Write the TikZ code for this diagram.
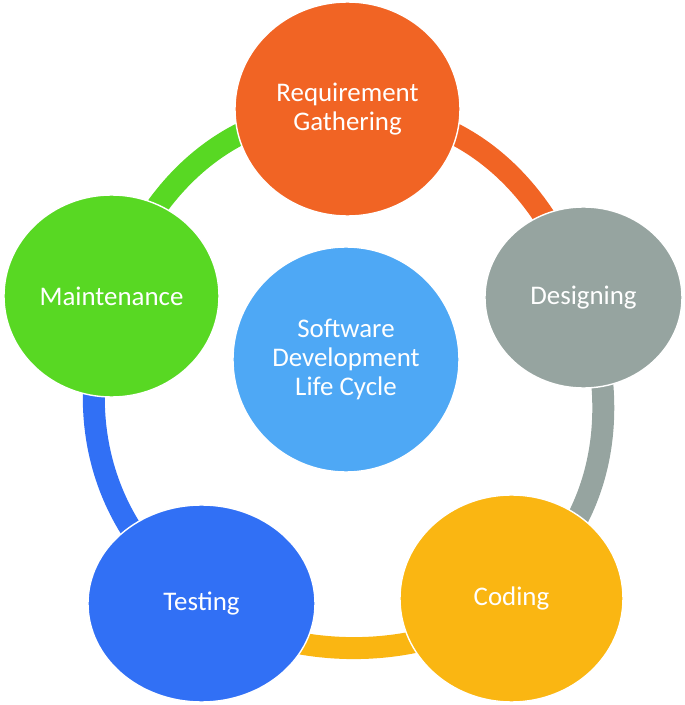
\documentclass[tikz,border=0pt]{standalone}
\usepackage{fontspec}
\setmainfont{Carlito}
\usetikzlibrary{shapes.geometric,backgrounds}

\definecolor{reqorange}{HTML}{F16424}
\definecolor{desgray}{HTML}{96A4A0}
\definecolor{codyellow}{HTML}{FAB612}
\definecolor{testblue}{HTML}{3170F5}
\definecolor{maintgreen}{HTML}{58D823}
\definecolor{sdlcblue}{HTML}{4EA8F5}

\begin{document}
\begin{tikzpicture}[
  phase/.style = {ellipse, draw = white, line width = 0.8pt, inner sep = 0pt,
    text = white, align = center, font = \fontsize{15.3}{16.5}\selectfont},
  ring/.style = {line width = 12.5pt}
  ]
  \useasboundingbox (0,0) rectangle (13.7,14.1);
  \node[phase, fill = reqorange, minimum width = 4.5cm, minimum height = 4.28cm]
    (req) at (6.95,11.92) {Requirement\\Gathering};
  \node[phase, fill = desgray, minimum width = 3.94cm, minimum height = 3.62cm]
    (des) at (11.67,8.15) {Designing};
  \node[phase, fill = codyellow, minimum width = 4.46cm, minimum height = 4.14cm]
    (cod) at (10.23,2.13) {Coding};
  \node[phase, fill = testblue, minimum width = 4.54cm, minimum height = 3.94cm]
    (test) at (4.03,2.03) {Testing};
  \node[phase, fill = maintgreen, minimum width = 4.3cm, minimum height = 4.04cm]
    (maint) at (2.23,8.18) {Maintenance};
  \node[phase, fill = sdlcblue, minimum width = 4.52cm, minimum height = 4.5cm]
    (sdlc) at (6.92,6.91) {Software\\Development\\Life Cycle};
  % ring behind the phases
  \begin{scope}[on background layer]
    \draw[ring, reqorange] (req.center) to [out = 0, in = 109] (des.center);
    \draw[ring, desgray] (des.center) to [out = -71, in = 39] (cod.center);
    \draw[ring, codyellow] (cod.center) to [out = -141, in = -36, looseness = 0.85] (test.center);
    \draw[ring, testblue] (test.center) to [out = 144, in = -109] (maint.center);
    \draw[ring, maintgreen] (maint.center) to [out = 71, in = 180] (req.center);
  \end{scope}
\end{tikzpicture}
\end{document}
